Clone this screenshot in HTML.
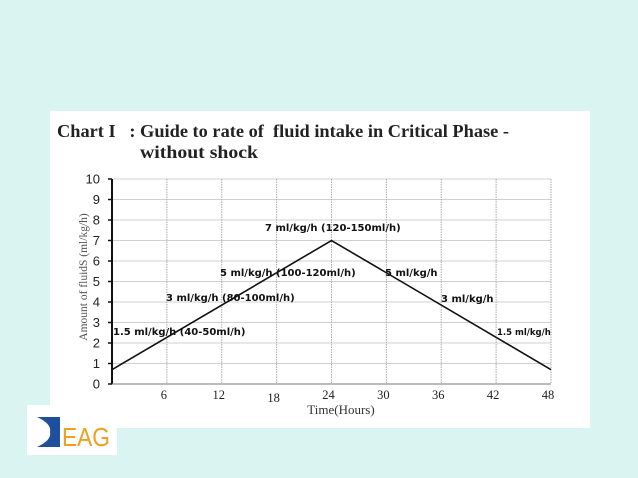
<!DOCTYPE html>
<html><head><meta charset="utf-8"><style>
html,body{margin:0;padding:0;width:638px;height:478px;background:#d9f3f0;overflow:hidden}
svg{display:block}
</style></head><body>
<svg width="638" height="478">
<rect x="0" y="0" width="638" height="478" fill="#daf4f1"/>
<rect x="50" y="111" width="540" height="317" fill="#fff"/>
<g font-family="Liberation Serif, serif" font-weight="bold" font-size="18" fill="#222">
<text x="57" y="137" textLength="452" lengthAdjust="spacingAndGlyphs">Chart I&#160;&#160;&#160;: Guide to rate of&#160; fluid intake in Critical Phase -</text>
<text x="140" y="158" textLength="118" lengthAdjust="spacingAndGlyphs">without shock</text>
</g>
<g id="grid"></g>
<g id="axes"></g>
<g id="series"></g>
<g id="labels" font-family="DejaVu Sans, sans-serif" font-weight="bold" font-size="10" fill="#111">
<text x="265" y="231">7 ml/kg/h (120-150ml/h)</text>
<text x="220" y="276">5 ml/kg/h (100-120ml/h)</text>
<text x="385" y="276">5 ml/kg/h</text>
<text x="166" y="301">3 ml/kg/h (80-100ml/h)</text>
<text x="441" y="302">3 ml/kg/h</text>
<text x="113" y="335">1.5 ml/kg/h (40-50ml/h)</text>
<text x="497" y="335" font-size="8.5">1.5 ml/kg/h</text>
</g>
<text x="0" y="0" transform="translate(87,277) rotate(-90)" text-anchor="middle" font-family="Liberation Serif, serif" font-size="11.5" fill="#555">Amount of fluidS (ml/kg/h)</text>
<text x="341" y="414" text-anchor="middle" font-family="Liberation Serif, serif" font-size="13" fill="#333">Time(Hours)</text>
<g>
<rect x="27" y="405" width="90" height="50" fill="#fff"/>
<path d="M37 417 L60 417 L60 447 L37 447 Q52 440 50 432 Q52 424 37 417 Z" fill="#1e4f9c"/>
<text x="62" y="446" font-family="Liberation Sans, sans-serif" font-size="26" fill="#f0a020" textLength="48" lengthAdjust="spacingAndGlyphs">EAG</text>
</g>
</svg>
<script>
const hours=[0,24,48];
const rates=[0.7,7,0.7];
const xTicks=[6,12,18,24,30,36,42,48];
const yTicks=[0,1,2,3,4,5,6,7,8,9,10];
const NS='http://www.w3.org/2000/svg';
const X0=112,X1=551,Y0=384,Y1=179;
function sx(v){return X0+(X1-X0)*v/48;}
function sy(v){return Y0-(Y0-Y1)*v/10;}
function mk(t,a,p){const e=document.createElementNS(NS,t);for(const k in a)e.setAttribute(k,a[k]);p.appendChild(e);return e;}
const grid=document.getElementById('grid'),axes=document.getElementById('axes'),series=document.getElementById('series');
yTicks.forEach(v=>{if(v===0)return;
 const l=mk('line',{x1:X0,x2:X1,y1:sy(v),y2:sy(v),stroke:'#d0d0d0','stroke-width':1},grid);
 
 });
xTicks.forEach(v=>{
 const l=mk('line',{x1:sx(v),x2:sx(v),y1:Y1,y2:Y0,stroke:'#aaa','stroke-width':1,'stroke-dasharray':'1.5,1'},grid);
 
 
 const t=mk('text',{x:sx(v)-3,y:v===18?402:399,'text-anchor':'middle','font-family':'Liberation Serif, serif','font-size':12.5,fill:'#222'},axes);
 t.textContent=v;
 
 });
const ya=mk('line',{x1:X0,x2:X0,y1:Y1,y2:Y0,stroke:'#111','stroke-width':2},axes);


const xa=mk('line',{x1:X0,x2:X1,y1:Y0,y2:Y0,stroke:'#777','stroke-width':1},axes);


yTicks.forEach(v=>{
 const tk=mk('line',{x1:X0-4,x2:X0,y1:sy(v),y2:sy(v),stroke:'#111','stroke-width':1.5},axes);
 
 
 const t=mk('text',{x:X0-12,y:sy(v)+4.5,'text-anchor':'end','font-family':'Liberation Sans, sans-serif','font-size':13,fill:'#222'},axes);
 t.textContent=v;
 
 });
const pts=hours.map((h,i)=>sx(h)+','+sy(rates[i])).join(' ');
const pl=mk('polyline',{points:pts,fill:'none',stroke:'#111','stroke-width':1.6},series);


</script>
</body></html>
